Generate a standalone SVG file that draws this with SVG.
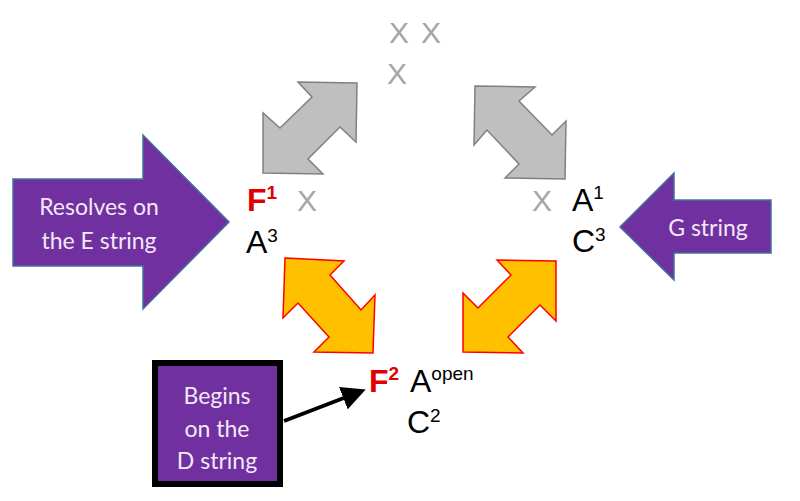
<svg xmlns="http://www.w3.org/2000/svg" width="800" height="501" viewBox="0 0 800 501">
<defs>
<style>
.purple{fill:#7030A0;stroke:#41719C;stroke-width:1.5;}
.gray{fill:#BFBFBF;stroke:#808080;stroke-width:1.5;stroke-linejoin:miter;}
.orange{fill:#FFC000;stroke:#FF0000;stroke-width:1.5;}
.lbl{font-family:Lato,"Open Sans",sans-serif;font-size:23px;fill:#F4E8F6;text-anchor:middle;}
.note{font-family:"Liberation Sans",Arial,sans-serif;font-size:32px;fill:#000;}
.red{fill:#E00000;font-weight:bold;}
.x{font-family:"Liberation Sans",Arial,sans-serif;font-size:30px;fill:#A6A6A6;}
.sup{font-size:19px;}
</style>
<marker id="ah" markerWidth="6" markerHeight="6" refX="5" refY="3" orient="auto" markerUnits="strokeWidth">
<path d="M0,0 L6,3 L0,6 Z" fill="#000"/>
</marker>
</defs>
<rect width="800" height="501" fill="#fff"/>

<g id="arrow-e-string">
<polygon class="purple" points="13,179 143,179 143,135 229,222 143,309 143,266 13,266"/>
<text class="lbl" x="99" y="215">Resolves on</text>
<text class="lbl" x="99" y="249">the E string</text>
</g>

<g id="arrow-g-string">
<polygon class="purple" points="771,200 674,200 674,173 620,227 674,280 674,253 771,253"/>
<text class="lbl" x="708" y="236">G string</text>
</g>

<g id="box-d-string">
<rect x="155" y="363" width="125" height="121" fill="#7030A0" stroke="#000" stroke-width="6"/>
<text class="lbl" x="217" y="404">Begins</text>
<text class="lbl" x="217" y="437">on the</text>
<text class="lbl" x="217" y="469">D string</text>
</g>

<g id="gray-arrow-left">
<polygon class="gray" points="298,82 357,83 356,142 340,127 308,159 323,174 263,173 263,113 280,128 312,97"/>
</g>
<g id="gray-arrow-right">
<polygon class="gray" points="475,86 535,87 519,101 552,135 566,121 565,179 505,178 519,164 487,130 474,145"/>
</g>
<g id="orange-arrow-left">
<polygon class="orange" points="285,258 344,261 330,275 361,310 375,295 373,353 314,352 329,337 298,303 283,318"/>
</g>
<g id="orange-arrow-right">
<polygon class="orange" points="556,261 497,260 511,275 478,308 463,293 463,352 523,353 508,337 540,305 556,321"/>
</g>

<g id="top-x">
<text class="x" x="389" y="43">X</text>
<text class="x" x="421" y="43">X</text>
<text class="x" x="387" y="84">X</text>
</g>

<g id="node-left">
<text class="note" x="247" y="211"><tspan class="red">F</tspan><tspan class="red sup" dy="-12">1</tspan></text>
<text class="x" x="297" y="211">X</text>
<text class="note" x="246" y="253">A<tspan class="sup" dy="-11">3</tspan></text>
</g>

<g id="node-right">
<text class="x" x="532" y="211">X</text>
<text class="note" x="572" y="211">A<tspan class="sup" dy="-12">1</tspan></text>
<text class="note" x="572" y="252">C<tspan class="sup" dy="-11">3</tspan></text>
</g>

<g id="node-bottom">
<text class="note" x="369" y="392"><tspan class="red">F</tspan><tspan class="red sup" dy="-12">2</tspan></text>
<text class="note" x="410" y="392">A<tspan class="sup" dy="-12">open</tspan></text>
<text class="note" x="407" y="433">C<tspan class="sup" dy="-11">2</tspan></text>
</g>

<g id="connectors">
<line x1="284" y1="421" x2="362" y2="391" stroke="#000" stroke-width="4" marker-end="url(#ah)"/>
</g>
</svg>
